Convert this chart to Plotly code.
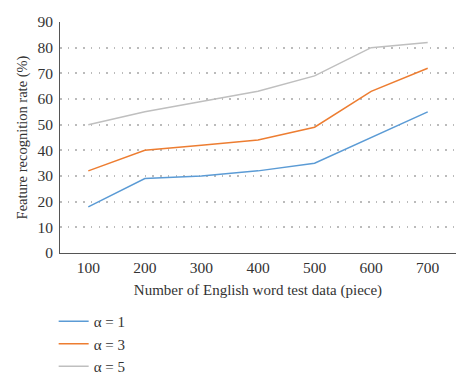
import plotly.graph_objects as go

categories = ["100", "200", "300", "400", "500", "600", "700"]
alpha1 = [18, 29, 30, 32, 35, 45, 55]
alpha3 = [32, 40, 42, 44, 49, 63, 72]
alpha5 = [50, 55, 59, 63, 69, 80, 82]
series_names = ["\u03b1 = 1", "\u03b1 = 3", "\u03b1 = 5"]
colors = ["#5B9BD5", "#ED7D31", "#BFBFBF"]
y_ticks = list(range(0, 91, 10))

fig = go.Figure()
for name, vals, c in zip(series_names, [alpha1, alpha3, alpha5], colors):
    fig.add_trace(go.Scatter(x=categories, y=vals, mode="lines", name=name,
                             line=dict(color=c, width=1.5)))

font = "Liberation Serif"
fig.update_layout(
    width=466, height=380,
    margin=dict(l=52, r=18, t=14, b=135, autoexpand=False),
    paper_bgcolor="white", plot_bgcolor="white",
    font=dict(family=font, size=15, color="#333333"),
    showlegend=True,
    legend=dict(x=-0.016, y=-0.225, xanchor="left", yanchor="top",
                font=dict(family=font, size=15, color="#333333"),
                bgcolor="rgba(0,0,0,0)", tracegroupgap=0, itemwidth=30),
    xaxis=dict(type="category", range=[-0.5, 6.5], showgrid=False,
               showline=True, linecolor="#555555", linewidth=1,
               ticks="", tickfont=dict(size=15.5), automargin=False,
               title=dict(text="Number of English word test data (piece)",
                          font=dict(size=15), standoff=9)),
    yaxis=dict(range=[0, 90], tickvals=y_ticks, showgrid=True,
               gridcolor="#BBBBBB", griddash="1.5px,6.2px", gridwidth=1.5,
               showline=True, linecolor="#555555", linewidth=1,
               zeroline=False, ticks="outside", ticklen=3,
               tickcolor="rgba(0,0,0,0)", tickfont=dict(size=15.5),
               automargin=False,
               title=dict(text="Feature recognition rate (%)",
                          font=dict(size=14.5), standoff=6)),
)
fig.write_html("out.html")
